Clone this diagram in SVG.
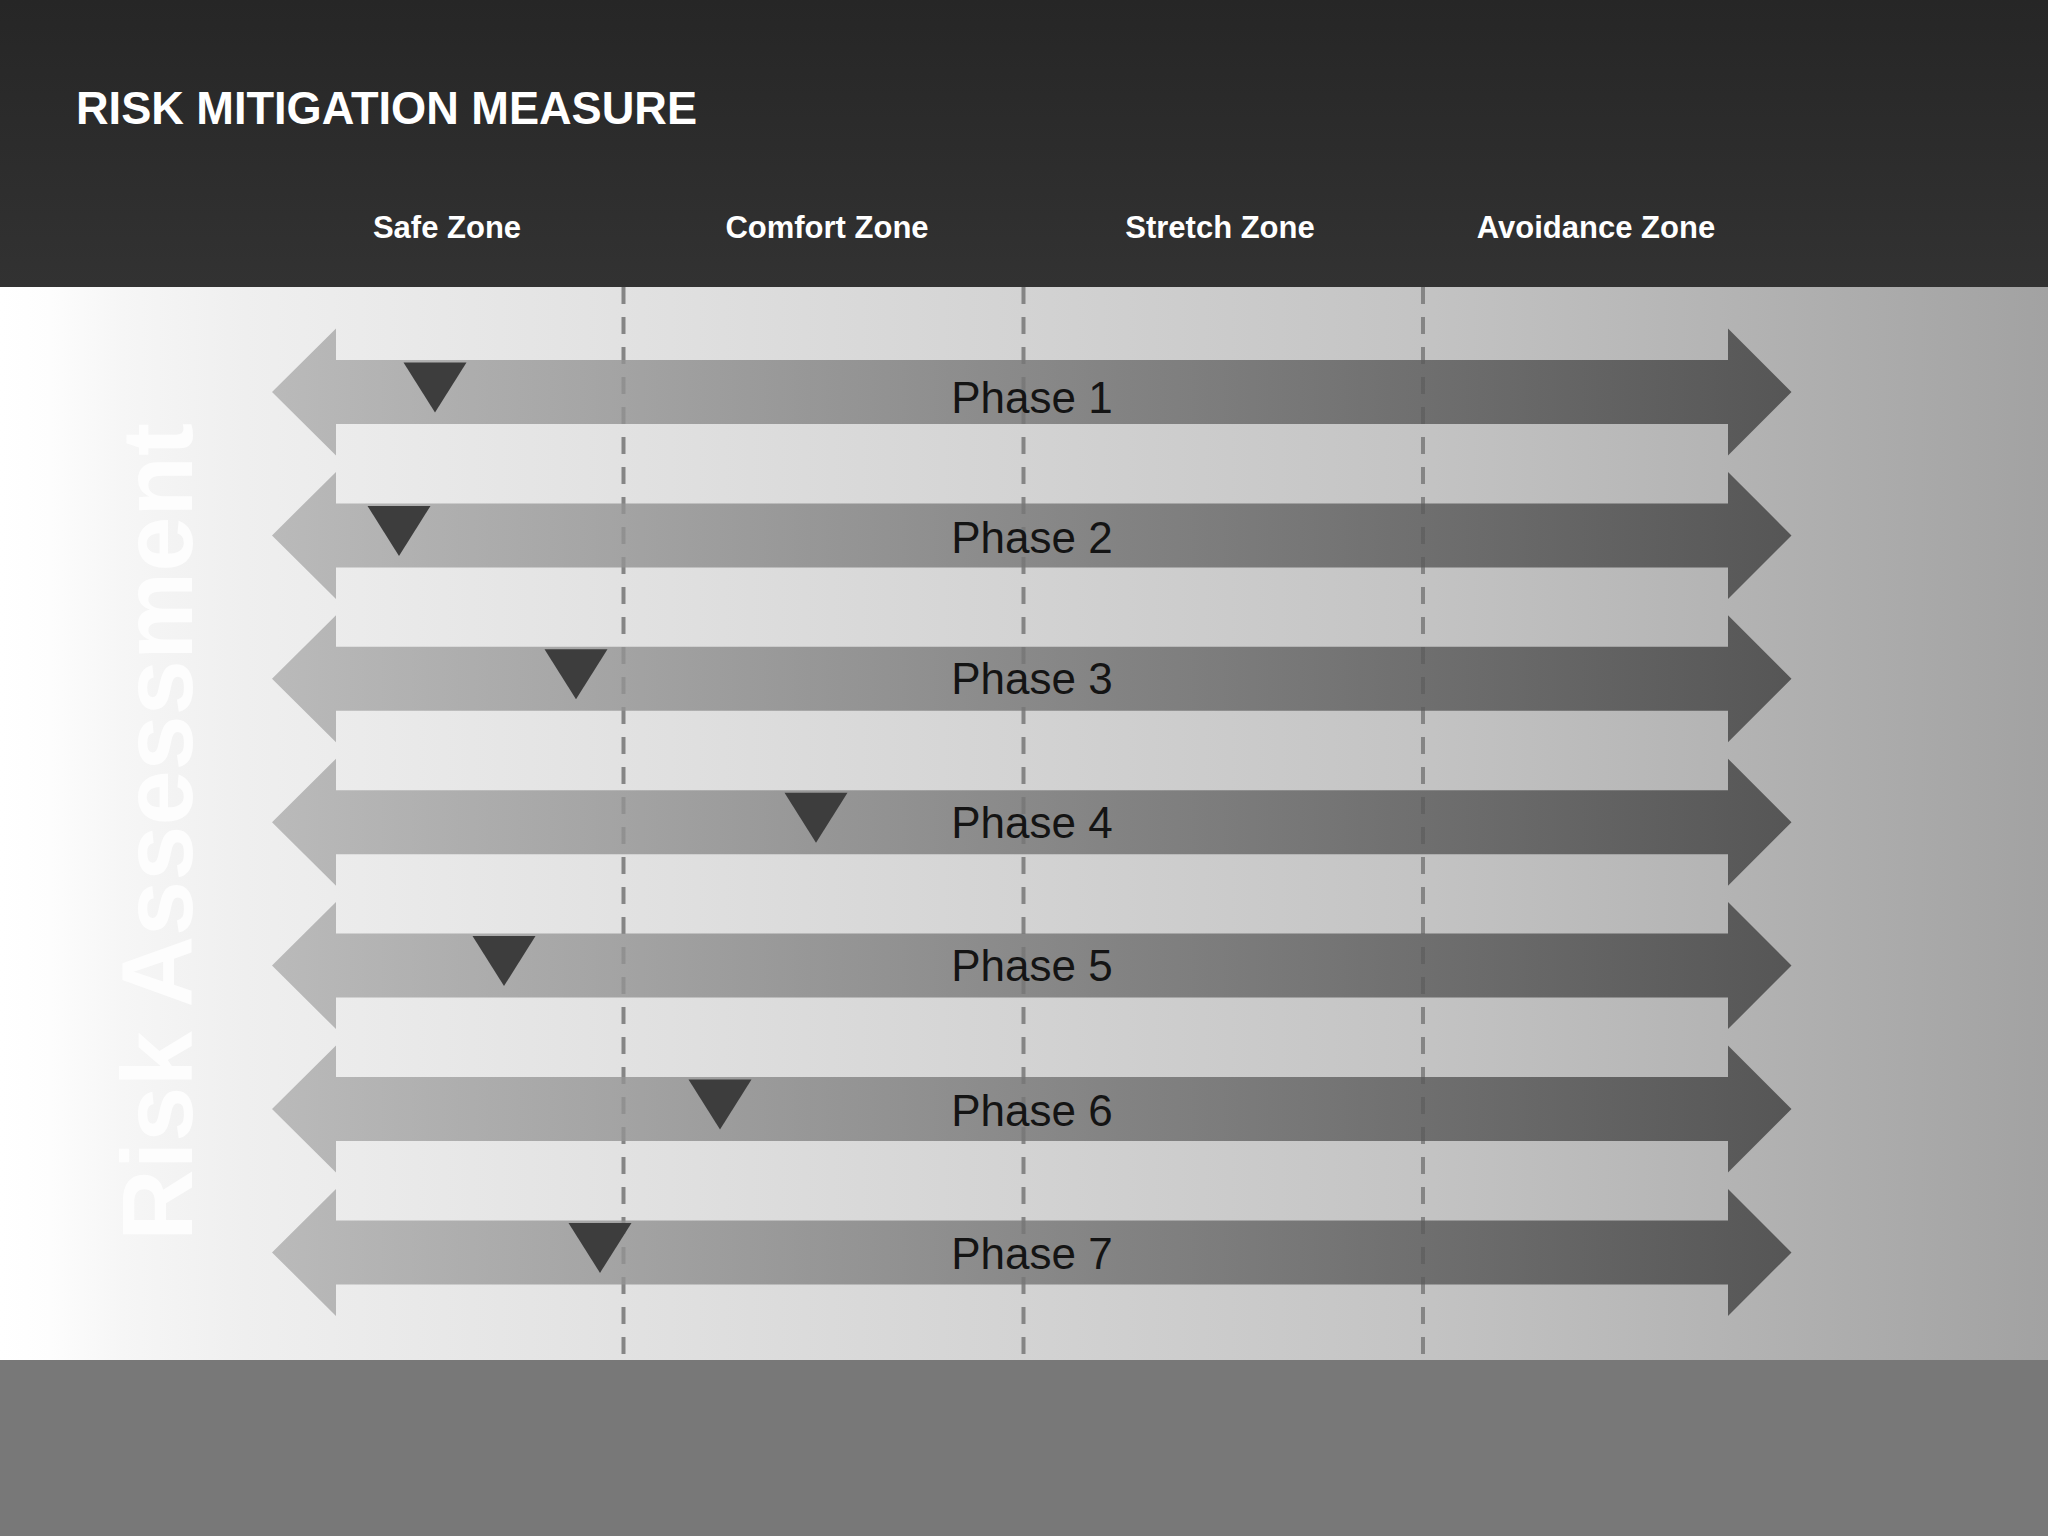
<svg xmlns="http://www.w3.org/2000/svg" xmlns:xlink="http://www.w3.org/1999/xlink" width="2048" height="1536" viewBox="0 0 2048 1536">
  <style>
    .title { font-family: "Liberation Sans", Arial, sans-serif; font-weight: bold; font-size: 46px; fill: #ffffff; }
    .zone { font-family: "Liberation Sans", Arial, sans-serif; font-weight: bold; font-size: 31px; fill: #ffffff; text-anchor: middle; }
    .phase { font-family: "Liberation Sans", Arial, sans-serif; font-size: 44px; fill: #141414; text-anchor: middle; }
    .side { font-family: "Liberation Sans", Arial, sans-serif; font-weight: bold; font-size: 100px; fill: #ffffff; fill-opacity: 0.8; }
    .divider { stroke: #858585; stroke-width: 4; stroke-dasharray: 17 13; fill: none; }
    .arrow { fill: url(#arrowGrad); fill-opacity: 0.8; }
    .marker { fill: #3d3d3d; }
  </style>
  <defs>
    <linearGradient id="headerGrad" x1="0" y1="0" x2="0" y2="1">
      <stop offset="0" stop-color="#262626"/>
      <stop offset="1" stop-color="#323232"/>
    </linearGradient>
    <linearGradient id="bgGrad" x1="0" y1="0" x2="1" y2="0">
      <stop offset="0" stop-color="#ffffff"/>
      <stop offset="0.025" stop-color="#fdfdfd"/>
      <stop offset="0.06" stop-color="#f6f6f6"/>
      <stop offset="0.12" stop-color="#efefef"/>
      <stop offset="0.3" stop-color="#e2e2e2"/>
      <stop offset="0.5" stop-color="#d3d3d3"/>
      <stop offset="0.7" stop-color="#c3c3c3"/>
      <stop offset="0.83" stop-color="#b5b5b5"/>
      <stop offset="1" stop-color="#a2a2a2"/>
    </linearGradient>
    <linearGradient id="arrowGrad" gradientUnits="userSpaceOnUse" x1="272" y1="0" x2="1792" y2="0">
      <stop offset="0" stop-color="#adadad"/>
      <stop offset="1" stop-color="#3f3f3f"/>
    </linearGradient>
    <path id="arrowShape" d="M272,0 L336,-63.5 L336,-32 L1728,-32 L1728,-63.5 L1791.5,0 L1728,63.5 L1728,32 L336,32 L336,63.5 Z"/>
    <path id="tri" d="M-31.5,-29.5 L31.5,-29.5 L0,20.5 Z"/>
  </defs>

  <!-- backgrounds -->
  <rect x="0" y="0" width="2048" height="287" fill="url(#headerGrad)"/>
  <rect x="0" y="287" width="2048" height="1073" fill="url(#bgGrad)"/>
  <rect x="0" y="1360" width="2048" height="176" fill="#787878"/>

  <text class="title" x="76" y="124" textLength="621" lengthAdjust="spacingAndGlyphs">RISK MITIGATION MEASURE</text>

  <g id="zone-labels">
    <text class="zone" x="447" y="238">Safe Zone</text>
    <text class="zone" x="827" y="238">Comfort Zone</text>
    <text class="zone" x="1220" y="238">Stretch Zone</text>
    <text class="zone" x="1596" y="238">Avoidance Zone</text>
  </g>

  <text class="side" transform="translate(192,1241) rotate(-90)" x="0" y="0" textLength="818" lengthAdjust="spacingAndGlyphs">Risk Assessment</text>

  <g id="connectors">
    <line class="divider" x1="623.5" y1="287" x2="623.5" y2="1360"/>
    <line class="divider" x1="1023.5" y1="287" x2="1023.5" y2="1360"/>
    <line class="divider" x1="1423" y1="287" x2="1423" y2="1360"/>
  </g>

  <g id="phase-1">
    <use xlink:href="#arrowShape" class="arrow" transform="translate(0,392)"/>
    <use xlink:href="#tri" class="marker" transform="translate(435,392)"/>
    <text class="phase" x="1032" y="413">Phase 1</text>
  </g>
  <g id="phase-2">
    <use xlink:href="#arrowShape" class="arrow" transform="translate(0,535.4)"/>
    <use xlink:href="#tri" class="marker" transform="translate(399,535.4)"/>
    <text class="phase" x="1032" y="553">Phase 2</text>
  </g>
  <g id="phase-3">
    <use xlink:href="#arrowShape" class="arrow" transform="translate(0,678.8)"/>
    <use xlink:href="#tri" class="marker" transform="translate(576,678.8)"/>
    <text class="phase" x="1032" y="694">Phase 3</text>
  </g>
  <g id="phase-4">
    <use xlink:href="#arrowShape" class="arrow" transform="translate(0,822.2)"/>
    <use xlink:href="#tri" class="marker" transform="translate(816,822.2)"/>
    <text class="phase" x="1032" y="838">Phase 4</text>
  </g>
  <g id="phase-5">
    <use xlink:href="#arrowShape" class="arrow" transform="translate(0,965.6)"/>
    <use xlink:href="#tri" class="marker" transform="translate(504,965.6)"/>
    <text class="phase" x="1032" y="981">Phase 5</text>
  </g>
  <g id="phase-6">
    <use xlink:href="#arrowShape" class="arrow" transform="translate(0,1109)"/>
    <use xlink:href="#tri" class="marker" transform="translate(720,1109)"/>
    <text class="phase" x="1032" y="1126">Phase 6</text>
  </g>
  <g id="phase-7">
    <use xlink:href="#arrowShape" class="arrow" transform="translate(0,1252.4)"/>
    <use xlink:href="#tri" class="marker" transform="translate(600,1252.4)"/>
    <text class="phase" x="1032" y="1269">Phase 7</text>
  </g>
</svg>
